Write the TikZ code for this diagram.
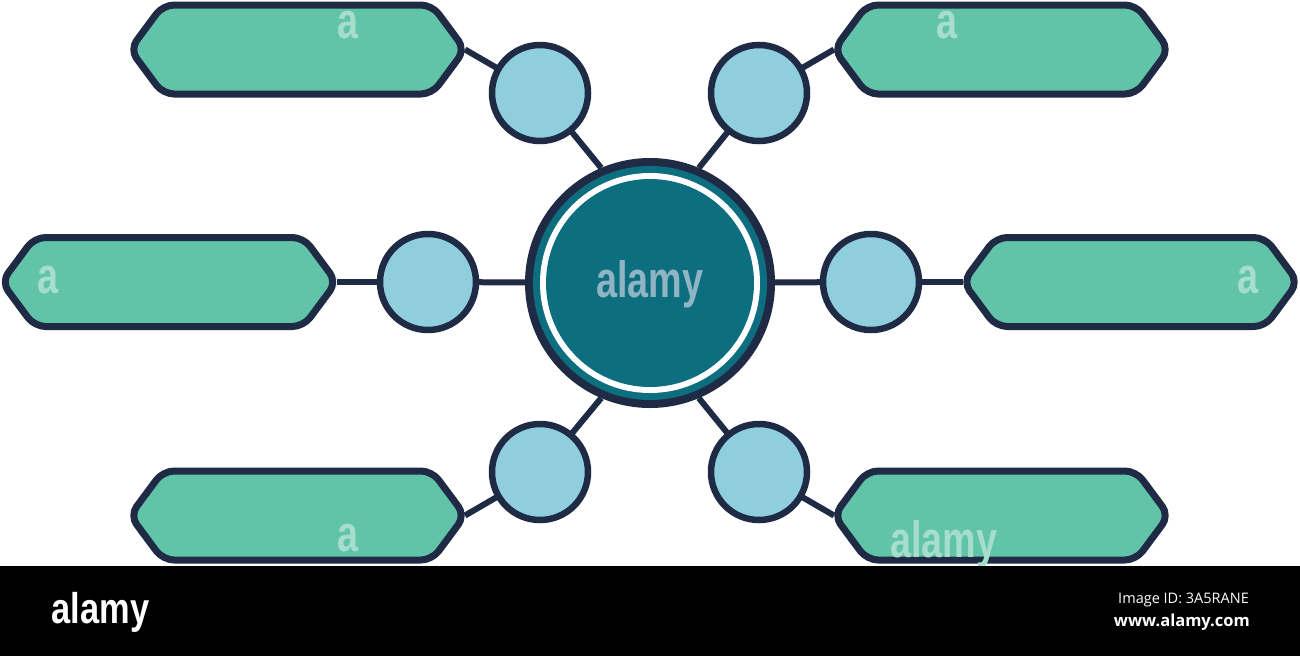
\documentclass[tikz,border=0pt]{standalone}
\usepackage{fontspec}
\usepackage{graphicx}
\usetikzlibrary{backgrounds}
\newfontfamily\wmfont{Liberation Sans}
\newfontfamily\osfont{Open Sans}
\definecolor{cNavy}{HTML}{1F2B45}
\definecolor{cGreen}{HTML}{61C4A8}
\definecolor{cBlue}{HTML}{8FCFDD}
\definecolor{cTeal}{HTML}{0D6E80}
\definecolor{cWmBlue}{HTML}{8FB4C3}
\definecolor{cWmGreen}{HTML}{A6DDCC}
\newcommand\bannerpath[1]{\path[bannerline] (#1.west) -- ([xshift=33pt]#1.north west) -- ([xshift=-33pt]#1.north east) -- (#1.east) -- ([xshift=-33pt]#1.south east) -- ([xshift=33pt]#1.south west) -- cycle;}
\newcommand\wmtext[1]{\scalebox{0.74}[1]{#1}}
\begin{document}
\begin{tikzpicture}[x=1pt,y=-1pt,
  bannerbox/.style={rectangle, minimum width=335pt, minimum height=89pt, inner sep=0pt, outer sep=0pt},
  bannerline/.style={draw=cNavy, fill=cGreen, line width=7pt, rounded corners=11pt, line join=round},
  dot/.style={circle, draw=cNavy, fill=cBlue, line width=6.5pt, minimum size=96pt, inner sep=0pt, outer sep=0pt},
  link/.style={draw=cNavy, line width=6pt},
  wm/.style={inner sep=0pt, anchor=base, font=\wmfont\bfseries\fontsize{51}{51}\selectfont},
  bartext/.style={inner sep=0pt, anchor=base east, text=white},
]
\useasboundingbox (0,0) rectangle (1300,656);

% banner frames (invisible boxes that give the anchors)
\node[bannerbox] (b1) at (297.5,49.5) {};
\node[bannerbox] (b2) at (1001.5,49.5) {};
\node[bannerbox] (b3) at (169,282) {};
\node[bannerbox] (b4) at (1130.5,282) {};
\node[bannerbox] (b5) at (297.5,515.5) {};
\node[bannerbox] (b6) at (1001.5,515.5) {};

% hub
\node[circle, fill=cNavy, minimum size=250pt, inner sep=0pt, outer sep=0pt] (hub) at (650,283) {};
\fill[cTeal] (hub.center) circle[radius=117pt];
\fill[white] (hub.center) circle[radius=110pt];
\fill[cTeal] (hub.center) circle[radius=104pt];
\node[wm, text=cWmBlue] (hubtext) at (650,297) {\wmtext{alamy}};

% small circles
\node[dot] (c1) at (540,93) {};
\node[dot] (c2) at (759,93) {};
\node[dot] (c3) at (428,282) {};
\node[dot] (c4) at (871,282) {};
\node[dot] (c5) at (540,472) {};
\node[dot] (c6) at (759,472) {};

% banners
\bannerpath{b1}
\bannerpath{b2}
\bannerpath{b3}
\bannerpath{b4}
\bannerpath{b5}
\bannerpath{b6}

% connectors behind everything
\begin{scope}[on background layer]
  \fill[white] (0,0) rectangle (1300,656);
  \draw[link] (b1.east) -- (c1.center);
  \draw[link] (b2.west) -- (c2.center);
  \draw[link] (b3.east) -- (c3.center);
  \draw[link] (b4.west) -- (c4.center);
  \draw[link] (b5.east) -- (c5.center);
  \draw[link] (b6.west) -- (c6.center);
  \draw[link] (c1.center) -- (hub.113);
  \draw[link] (c2.center) -- (hub.67);
  \draw[link] (c3.center) -- (hub.center);
  \draw[link] (c4.center) -- (hub.center);
  \draw[link] (c5.center) -- (hub.-113);
  \draw[link] (c6.center) -- (hub.-67);
\end{scope}

% watermark fragments
\node[wm, text=cWmGreen] (w1) at (348,38) {\wmtext{a}};
\node[wm, text=cWmGreen] (w2) at (947,38) {\wmtext{a}};
\node[wm, text=cWmGreen] (w3) at (48,293) {\wmtext{a}};
\node[wm, text=cWmGreen] (w4) at (1248,293) {\wmtext{a}};
\node[wm, text=cWmGreen] (w5) at (348,551) {\wmtext{a}};
\node[wm, text=cWmGreen] (w6) at (944,557) {\wmtext{alamy}};

% bottom bar
\fill[black] (0,566) rectangle (1300,656);
\node[inner sep=0pt, anchor=base, text=white, font=\wmfont\bfseries\fontsize{43}{43}\selectfont] (logo) at (100.5,623) {\scalebox{0.8}[1]{alamy}};
\node[bartext, font=\osfont\fontsize{14.5}{14.5}\selectfont] (imgid) at (1249,603) {Image ID: 3A5RANE};
\node[bartext, font=\osfont\bfseries\fontsize{16.5}{16.5}\selectfont] (url) at (1250,626) {www.alamy.com};
\end{tikzpicture}
\end{document}
